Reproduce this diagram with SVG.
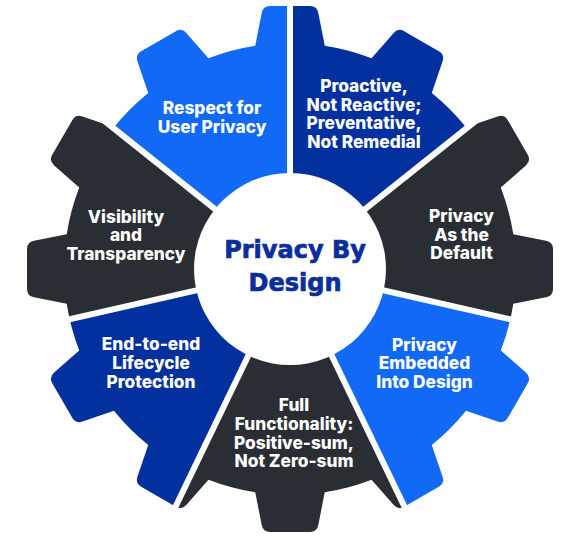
<svg xmlns="http://www.w3.org/2000/svg" width="582" height="540" viewBox="0 0 582 540">
<defs>
<style>
.lbl{font-family:Inter,"Liberation Sans",sans-serif;font-weight:800;font-size:17.3px;fill:#fff;text-anchor:middle}
.title{font-family:"DejaVu Sans",sans-serif;font-weight:700;font-size:24px;fill:#0A2E9B;stroke:#0A2E9B;stroke-width:0.7px;text-anchor:middle}
.gap{stroke:#fff;stroke-width:6}
.bb{fill:#1169F5}.db{fill:#03309F}.gr{fill:#292E35}
</style>
<path id="tooth" d="M -37,-212 L -28.3,-256 Q -27,-263 -20,-263 L 20,-263 Q 27,-263 28.3,-256 L 37,-212 Z"/>
<clipPath id="gear" clipPathUnits="userSpaceOnUse">
<circle cx="0" cy="0" r="226"/>
<use href="#tooth"/>
<use href="#tooth" transform="rotate(30)"/>
<use href="#tooth" transform="rotate(60)"/>
<use href="#tooth" transform="rotate(90)"/>
<use href="#tooth" transform="rotate(120)"/>
<use href="#tooth" transform="rotate(150)"/>
<use href="#tooth" transform="rotate(180)"/>
<use href="#tooth" transform="rotate(210)"/>
<use href="#tooth" transform="rotate(240)"/>
<use href="#tooth" transform="rotate(270)"/>
<use href="#tooth" transform="rotate(300)"/>
<use href="#tooth" transform="rotate(330)"/>
</clipPath>
</defs>
<rect width="582" height="540" fill="#fff"/>

<g id="proactive">
<g transform="translate(290 269)"><path class="db" d="M0,0 L0,-300 L234.55,-187.05 Z" clip-path="url(#gear)"/></g>
<text class="lbl"><tspan x="364" y="92">Proactive,</tspan><tspan x="364" y="110.7">Not Reactive;</tspan><tspan x="364" y="129.4">Preventative,</tspan><tspan x="364" y="148">Not Remedial</tspan></text>
</g>

<g id="default">
<g transform="translate(290 269)"><path class="gr" d="M0,0 L234.55,-187.05 L292.48,66.76 Z" clip-path="url(#gear)"/></g>
<text class="lbl"><tspan x="461.5" y="222.3">Privacy</tspan><tspan x="461.5" y="240.8">As the</tspan><tspan x="461.5" y="259.3">Default</tspan></text>
</g>

<g id="embedded">
<g transform="translate(290 269)"><path class="bb" d="M0,0 L292.48,66.76 L130.16,270.29 Z" clip-path="url(#gear)"/></g>
<text class="lbl"><tspan x="424.5" y="350.7">Privacy</tspan><tspan x="424.5" y="369.3">Embedded</tspan><tspan x="424.5" y="388">Into Design</tspan></text>
</g>

<g id="functionality">
<g transform="translate(290 269)"><path class="gr" d="M0,0 L130.16,270.29 L-130.16,270.29 Z" clip-path="url(#gear)"/></g>
<text class="lbl"><tspan x="294" y="411">Full</tspan><tspan x="294" y="429.8">Functionality:</tspan><tspan x="294" y="448.5">Positive-sum,</tspan><tspan x="294" y="467.2">Not Zero-sum</tspan></text>
</g>

<g id="lifecycle">
<g transform="translate(290 269)"><path class="db" d="M0,0 L-130.16,270.29 L-292.48,66.76 Z" clip-path="url(#gear)"/></g>
<text class="lbl"><tspan x="151" y="350">End-to-end</tspan><tspan x="151" y="369">Lifecycle</tspan><tspan x="151" y="388">Protection</tspan></text>
</g>

<g id="visibility">
<g transform="translate(290 269)"><path class="gr" d="M0,0 L-292.48,66.76 L-234.55,-187.05 Z" clip-path="url(#gear)"/></g>
<text class="lbl"><tspan x="126" y="222.7">Visibility</tspan><tspan x="126" y="241.4">and</tspan><tspan x="126" y="260">Transparency</tspan></text>
</g>

<g id="respect">
<g transform="translate(290 269)"><path class="bb" d="M0,0 L-234.55,-187.05 L0,-300 Z" clip-path="url(#gear)"/></g>
<text class="lbl"><tspan x="212" y="113.7">Respect for</tspan><tspan x="212" y="132.7">User Privacy</tspan></text>
</g>

<g id="separators" transform="translate(290 269)">
<line class="gap" x1="0" y1="0" x2="0" y2="-300"/>
<line class="gap" x1="0" y1="0" x2="234.55" y2="-187.05"/>
<line class="gap" x1="0" y1="0" x2="292.48" y2="66.76"/>
<line class="gap" x1="0" y1="0" x2="130.16" y2="270.29"/>
<line class="gap" x1="0" y1="0" x2="-130.16" y2="270.29"/>
<line class="gap" x1="0" y1="0" x2="-292.48" y2="66.76"/>
<line class="gap" x1="0" y1="0" x2="-234.55" y2="-187.05"/>
</g>

<g id="center">
<circle cx="290" cy="269" r="96" fill="#fff"/>
<text class="title"><tspan x="295" y="258.3">Privacy By</tspan><tspan x="295" y="290.7">Design</tspan></text>
</g>
</svg>
